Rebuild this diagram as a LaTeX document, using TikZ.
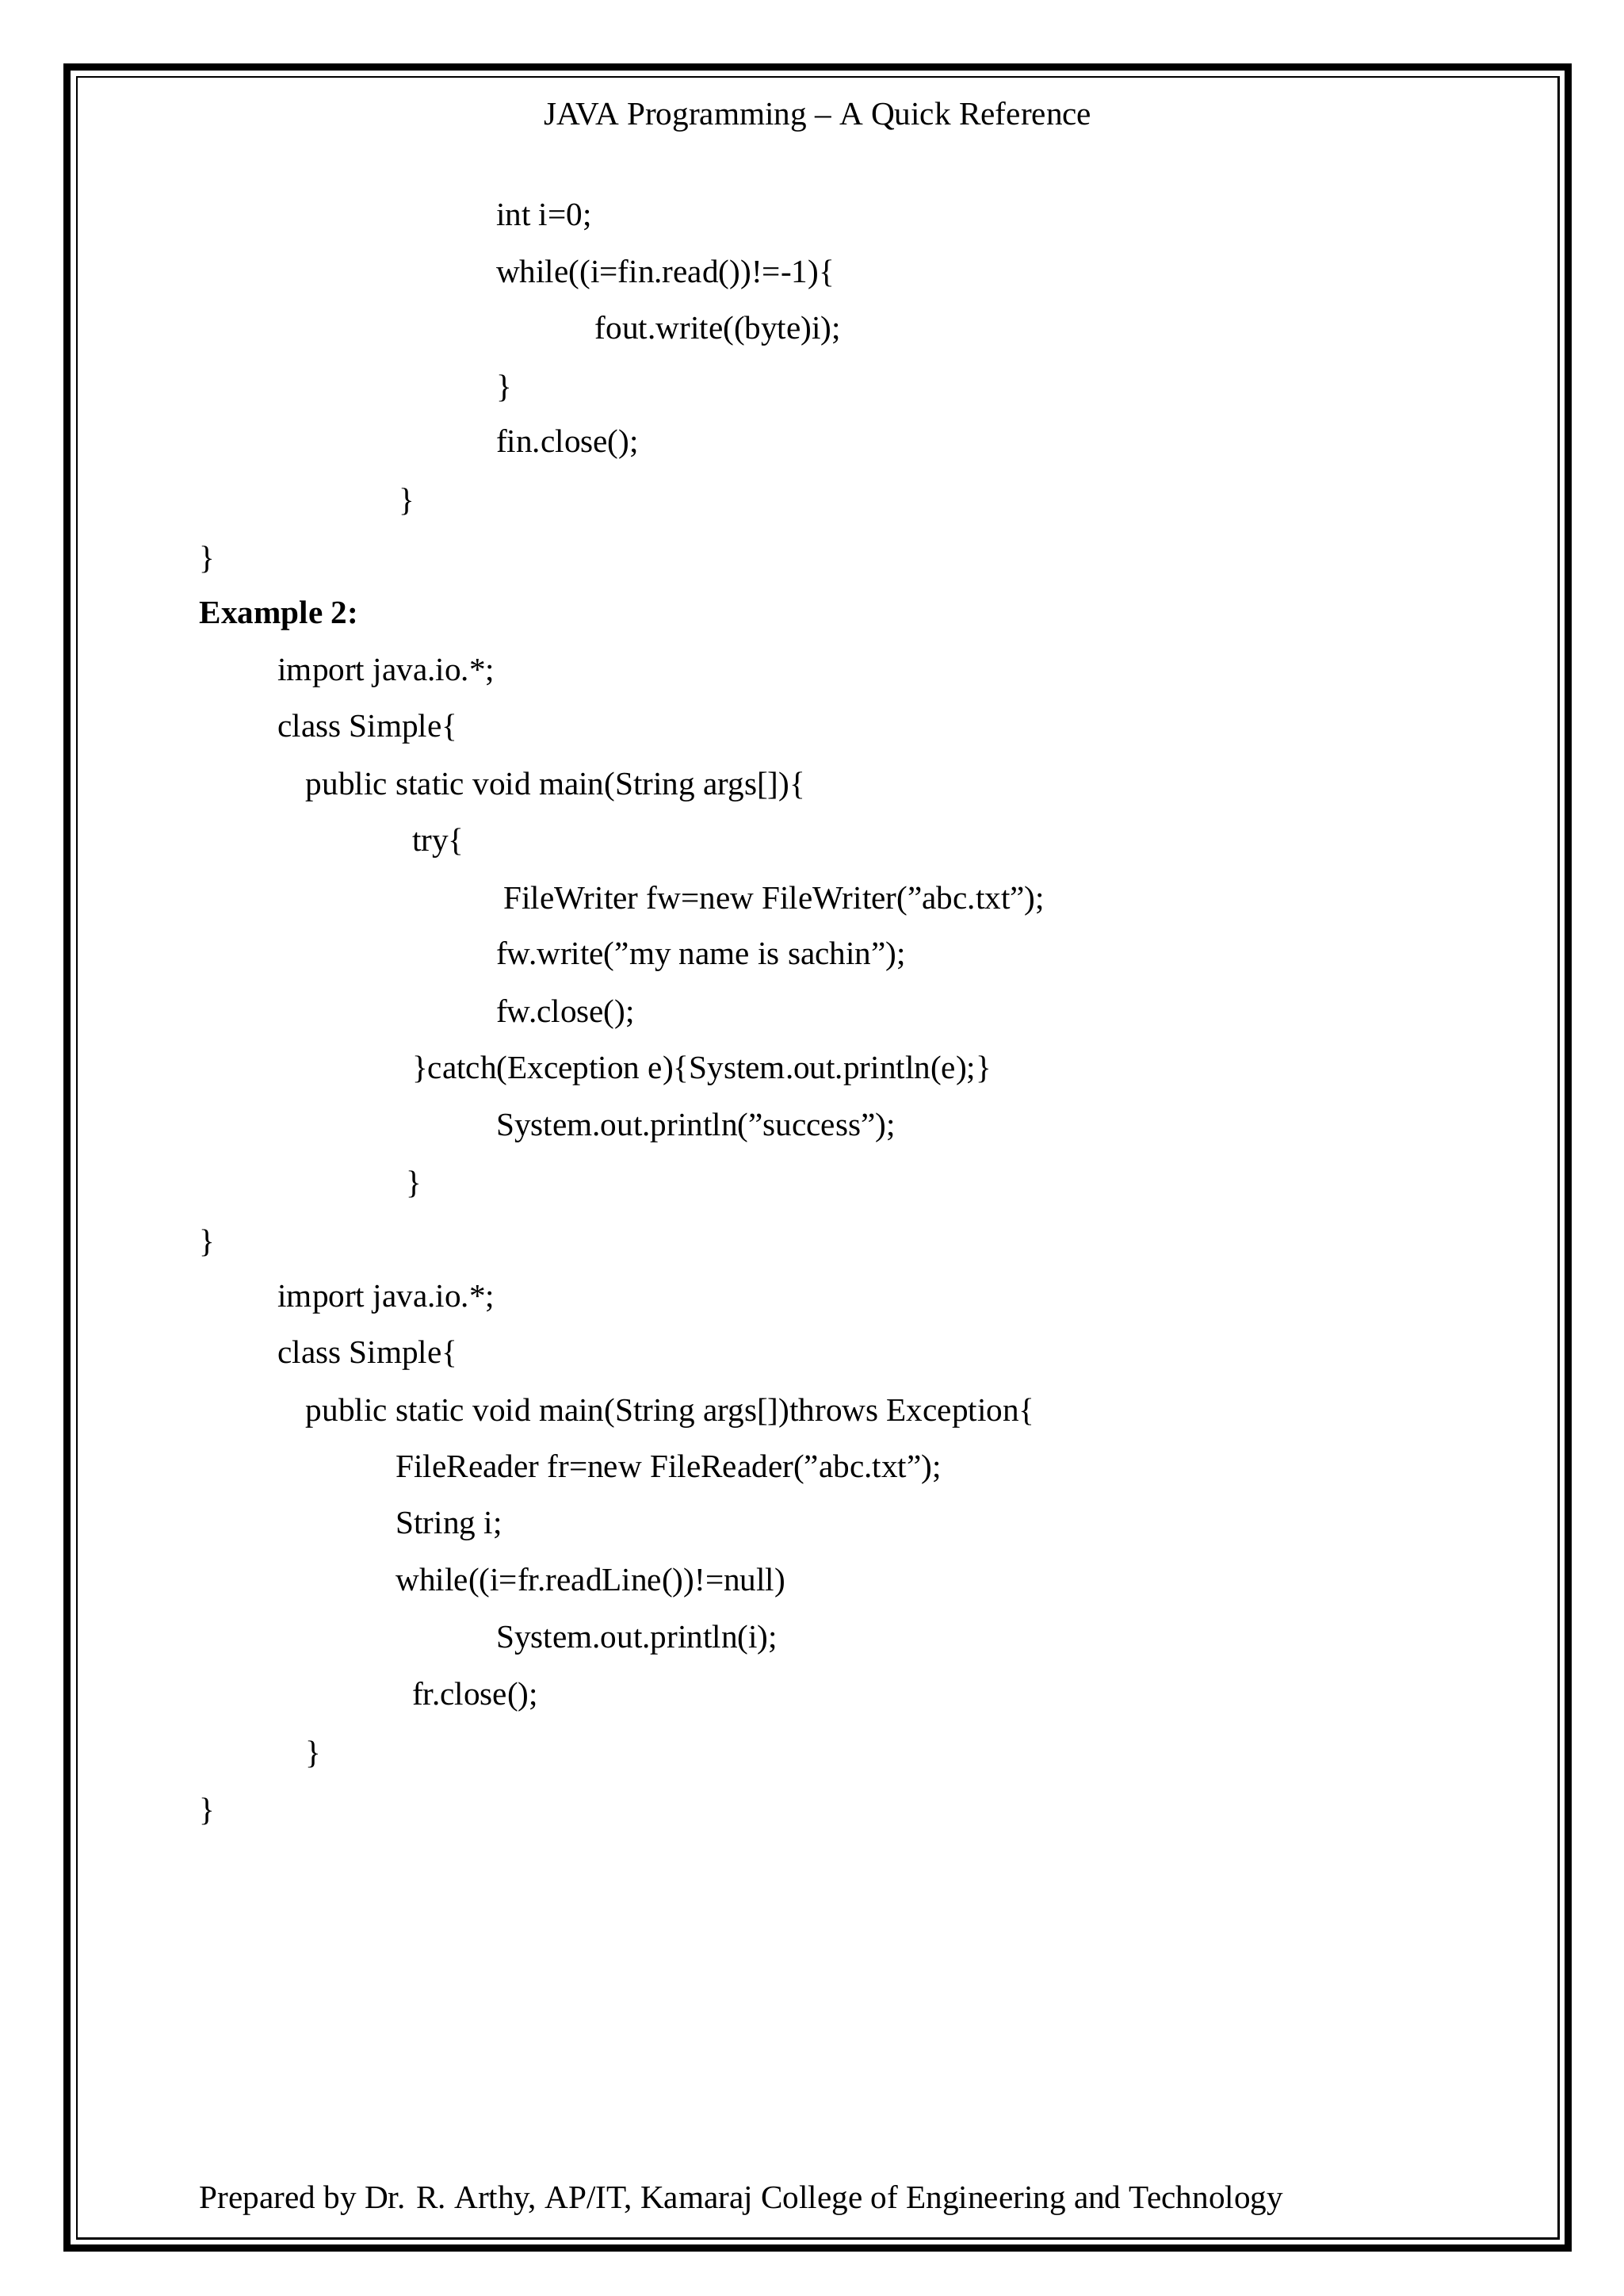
\documentclass[tikz,border=0pt]{standalone}
\usepackage{fontspec}
\setmainfont{Liberation Serif}
\begin{document}
\begin{tikzpicture}[x=0.931pt,y=-0.931pt,
  ln/.style={anchor=west,inner sep=0pt,font=\fontsize{20.6pt}{24pt}\selectfont}]
\useasboundingbox (0,0) rectangle (1100,1555);
\fill[white] (0,0) rectangle (1100,1555);
\draw[line width=4.5pt] (45.5,45.5) rectangle (1062.5,1522.5);
\draw[line width=1.2pt] (52,52) rectangle (1056,1516);
\node[ln,anchor=center] (h) at (554,79) {JAVA Programming – A Quick Reference};
\node[ln] (l1) at (336,147) {int i=0;};
\node[ln] (l2) at (336,186) {while((i=fin.read())!=-1)\{};
\node[ln] (l3) at (403,224) {fout.write((byte)i);};
\node[ln] (l4) at (336,263) {\}};
\node[ln] (l5) at (336,301) {fin.close();};
\node[ln] (l6) at (270,340) {\}};
\node[ln] (l7) at (135,379) {\}};
\node[ln,font=\fontsize{20.6pt}{24pt}\selectfont\bfseries] (l8) at (135,417) {Example 2:};
\node[ln] (l9) at (188,456) {import java.io.*;};
\node[ln] (l10) at (188,494) {class Simple\{};
\node[ln] (l11) at (207,533) {public static void main(String args[])\{};
\node[ln] (l12) at (279,571) {try\{};
\node[ln] (l13) at (341,610) {FileWriter fw=new FileWriter("abc.txt");};
\node[ln] (l14) at (336,648) {fw.write("my name is sachin");};
\node[ln] (l15) at (336,687) {fw.close();};
\node[ln] (l16) at (279,725) {\}catch(Exception e)\{System.out.println(e);\}};
\node[ln] (l17) at (336,764) {System.out.println("success");};
\node[ln] (l18) at (275,802) {\}};
\node[ln] (l19) at (135,842) {\}};
\node[ln] (l20) at (188,880) {import java.io.*;};
\node[ln] (l21) at (188,918) {class Simple\{};
\node[ln] (l22) at (207,957) {public static void main(String args[])throws Exception\{};
\node[ln] (l23) at (268,995) {FileReader fr=new FileReader("abc.txt");};
\node[ln] (l24) at (268,1034) {String i;};
\node[ln] (l25) at (268,1072) {while((i=fr.readLine())!=null)};
\node[ln] (l26) at (336,1111) {System.out.println(i);};
\node[ln] (l27) at (279,1149) {fr.close();};
\node[ln] (l28) at (207,1188) {\}};
\node[ln] (l29) at (135,1227) {\}};
\node[ln] (f) at (135,1490) {Prepared by Dr. R. Arthy, AP/IT, Kamaraj College of Engineering and Technology};
\end{tikzpicture}
\end{document}
